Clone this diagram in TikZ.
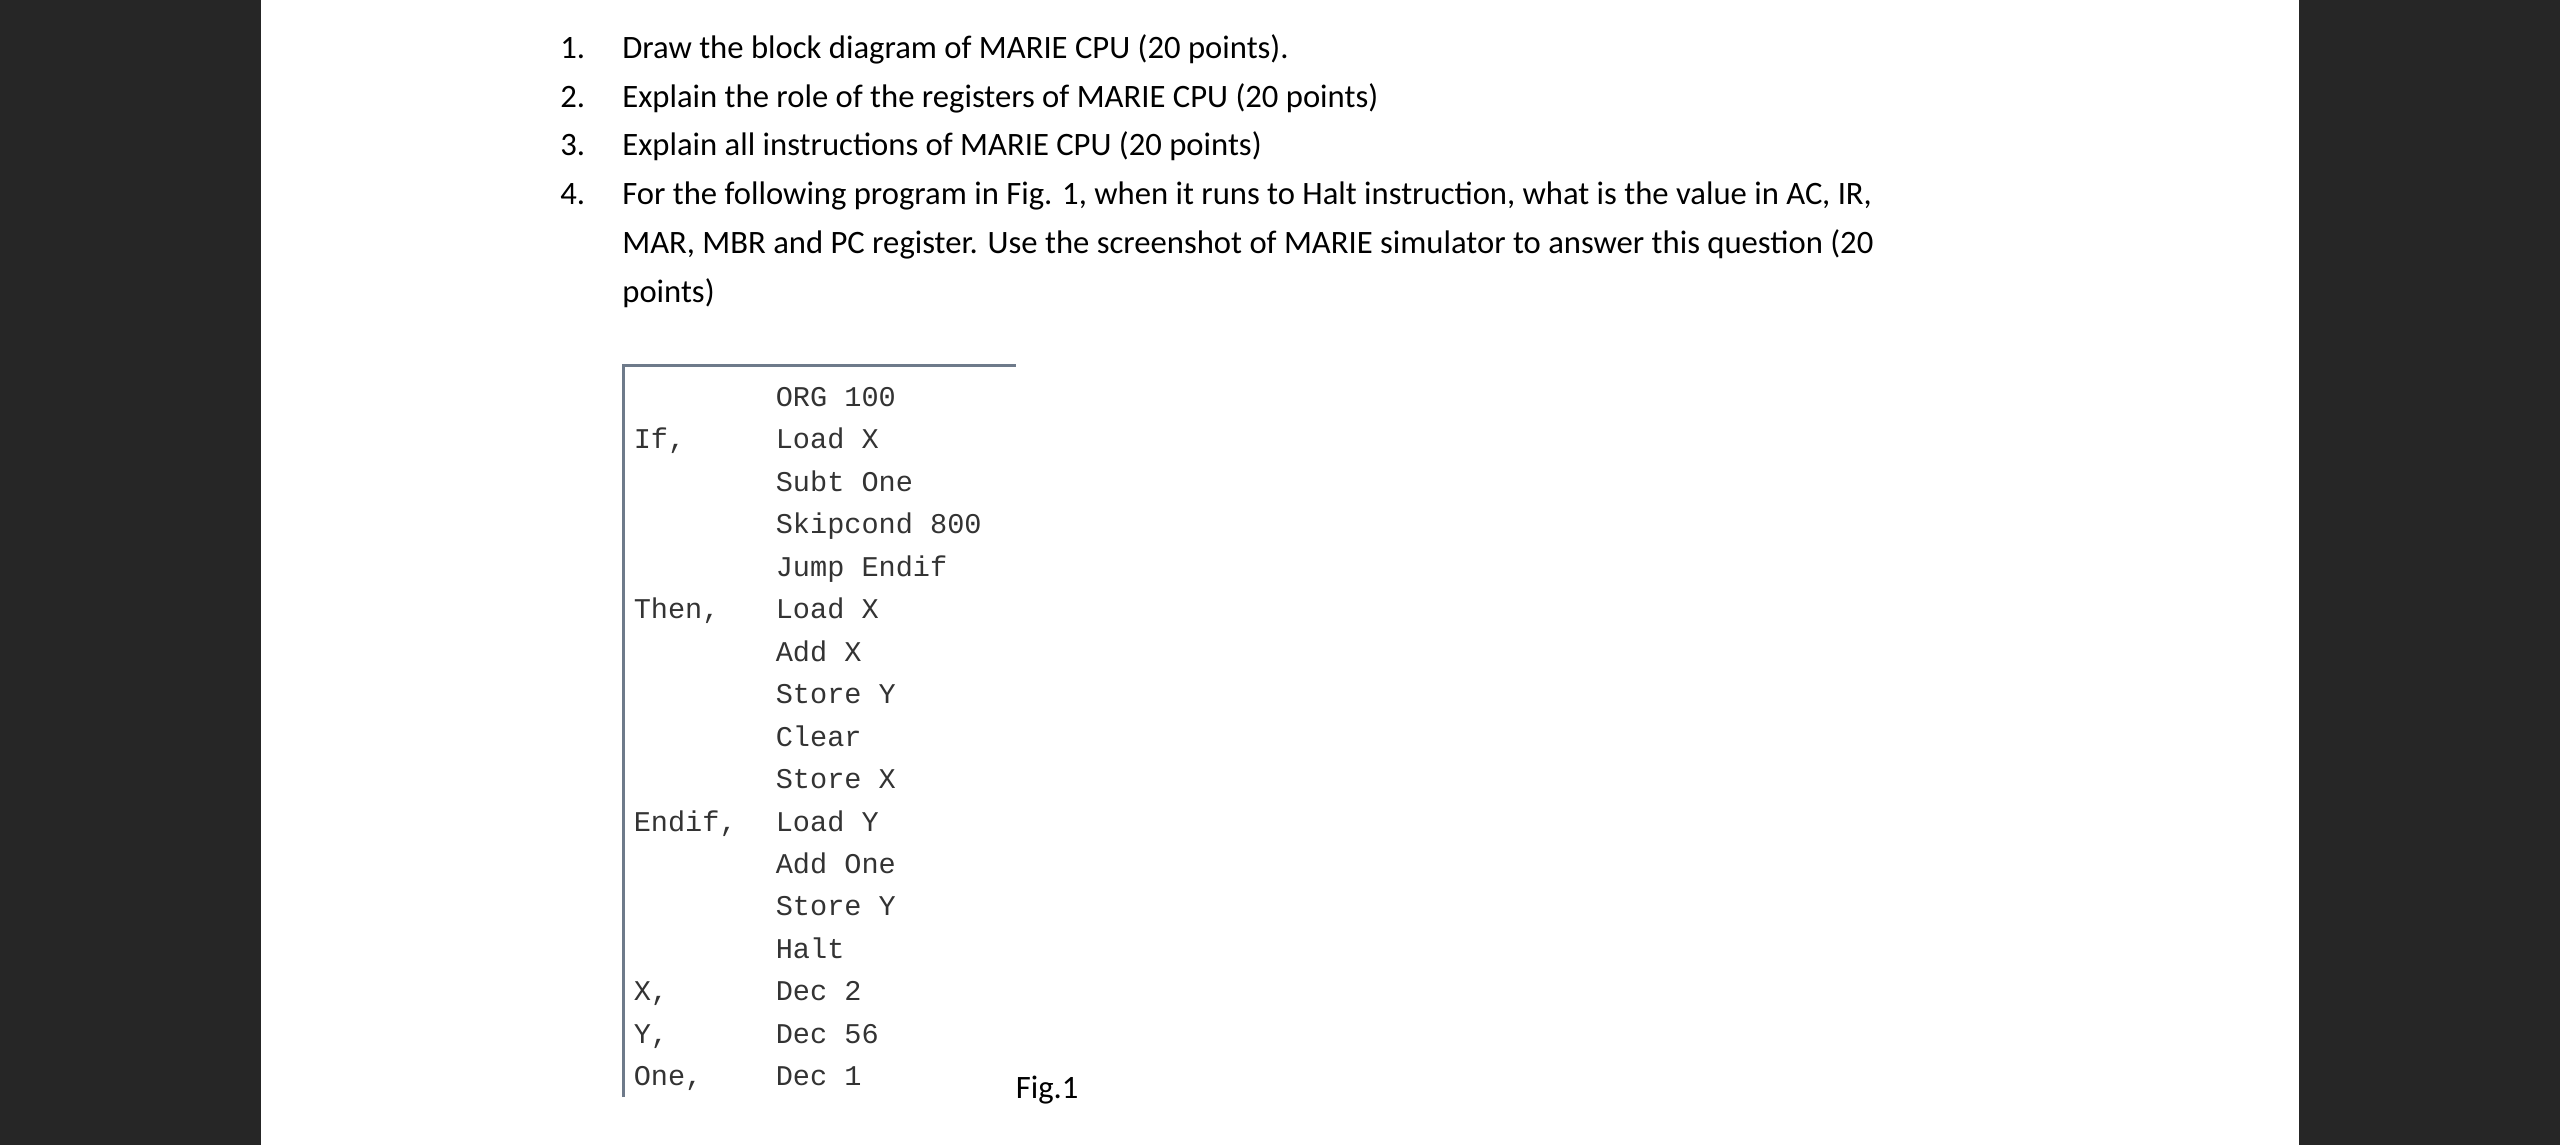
\documentclass[tikz,border=0pt]{standalone}
\usepackage{fontspec}
\setmainfont{Carlito}
\newfontfamily\codefont{Liberation Mono}
\begin{document}
\begin{tikzpicture}[x=1pt,y=-1pt,
  q/.style={anchor=base west,inner sep=0pt,font=\fontsize{20}{24}\selectfont},
  cd/.style={anchor=base west,inner sep=0pt,font=\codefont\fontsize{17.5}{20}\selectfont,text=black!80}]
\useasboundingbox (0,0) rectangle (1568,701);
\fill[black!85] (0,0) rectangle (160,701);
\fill[black!85] (1408,0) rectangle (1568,701);
\foreach \n/\y/\t in {1/36/{Draw the block diagram of MARIE CPU (20 points).},
  2/66/{Explain the role of the registers of MARIE CPU (20 points)},
  3/95/{Explain all instructions of MARIE CPU (20 points)},
  4/125/{For the following program in Fig. 1, when it runs to Halt instruction, what is the value in AC, IR,}}
  {\node[q] (n\n) at (343,\y) {\n.}; \node[q] (t\n) at (381,\y) {\t};}
\node[q] (t5) at (381,155) {MAR, MBR and PC register. Use the screenshot of MARIE simulator to answer this question (20};
\node[q] (t6) at (381,185) {points)};
\draw[color={rgb,255:red,110;green,122;blue,138},line width=2pt] (382,672) -- (382,224) -- (622,224);
\foreach \i/\l/\c in {0/{}/ORG 100,1/{If,}/Load X,2/{}/Subt One,3/{}/Skipcond 800,4/{}/Jump Endif,
  5/{Then,}/Load X,6/{}/Add X,7/{}/Store Y,8/{}/Clear,9/{}/Store X,10/{Endif,}/Load Y,
  11/{}/Add One,12/{}/Store Y,13/{}/Halt,14/{X,}/Dec 2,15/{Y,}/Dec 56,16/{One,}/Dec 1}
  {\node[cd] (l\i) at (388,249+26*\i) {\l}; \node[cd] (c\i) at (475,249+26*\i) {\c};}
\node[q] (fig) at (622,673) {Fig.1};
\end{tikzpicture}
\end{document}
